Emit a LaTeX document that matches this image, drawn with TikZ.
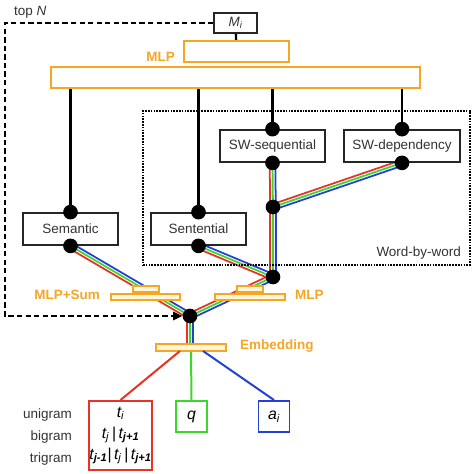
\documentclass[tikz,border=0pt]{standalone}
\usepackage{fontspec}
\setmainfont{Liberation Sans}
\usetikzlibrary{calc,arrows.meta,backgrounds}
\definecolor{mlporange}{RGB}{245,166,35}
\definecolor{mlpfill}{RGB}{255,244,220}
\definecolor{wred}{RGB}{232,50,40}
\definecolor{wgreen}{RGB}{60,215,45}
\definecolor{wblue}{RGB}{35,65,215}
\def\wiresep{2.4pt}
% three coloured strands between two named points
\newcommand{\wire}[2]{%
	\draw[wred,line width=1.5pt] ($(#1.center)!\wiresep!-90:(#2.center)$) -- ($(#2.center)!\wiresep!90:(#1.center)$);
	\draw[wgreen,line width=1.5pt] (#1.center) -- (#2.center);
	\draw[wblue,line width=1.5pt] ($(#1.center)!\wiresep!90:(#2.center)$) -- ($(#2.center)!\wiresep!-90:(#1.center)$);
}
\tikzset{
	module/.style={draw=black!85, line width=1.5pt, minimum height=0.96cm, inner sep=0pt, text=black!80, font=\fontsize{11.5}{13}\selectfont},
	joint/.style={circle, fill=black, inner sep=0pt, minimum size=0.44cm},
	mlpbox/.style={draw=mlporange, line width=1.9pt, fill=white, inner sep=0pt, minimum height=0.63cm},
	mlpbar/.style={draw=mlporange, line width=1.4pt, fill=mlpfill, inner sep=0pt, minimum height=0.18cm},
	mlplabel/.style={text=mlporange, font=\bfseries\fontsize{11.5}{13}\selectfont},
	plainlabel/.style={text=black!80, font=\fontsize{11.5}{13}\selectfont},
	inputbox/.style={line width=1.7pt, inner sep=0pt, font=\itshape\fontsize{13.5}{18}\selectfont},
	link/.style={line width=2pt},
}
\begin{document}
\begin{tikzpicture}[x=0.03cm, y=-0.03cm]
	\useasboundingbox (0,0) rectangle (474,474);
	
	\node[draw, densely dotted, line width=1.4pt, minimum width=9.81cm, minimum height=4.62cm] (wbw) at (306.5,188) {};
	\node[plainlabel, anchor=east] (wbwlabel) at (465,253) {Word-by-word};
	
	\node[module, minimum width=1.29cm, minimum height=0.6cm, font=\itshape\fontsize{11.5}{13}\selectfont] (mi) at (235.5,23) {M\textsubscript{i}};
	\node[mlpbox, minimum width=3.15cm] (mlptop) at (236.5,51.5) {};
	\node[mlplabel, anchor=east] (mlptoplabel) at (179,57) {MLP};
	\node[mlpbox, minimum width=11.07cm] (bigbar) at (235.5,77.5) {};
	\node[plainlabel, anchor=west] (topn) at (10,12) {top \textit{N}};
	
	\node[module, minimum width=2.85cm] (sem) at (70.5,229) {Semantic};
	\node[module, minimum width=2.85cm] (sent) at (198.5,229) {Sentential};
	\node[module, minimum width=3.15cm] (seq) at (272.5,146) {SW-sequential};
	\node[module, minimum width=3.48cm] (dep) at (402,146) {SW-dependency};
	
	\node[joint] (semtop) at (sem.north) {};
	\node[joint] (semb) at (sem.south) {};
	\node[joint] (senttop) at (sent.north) {};
	\node[joint] (sentb) at (sent.south) {};
	\node[joint] (seqtop) at (seq.north) {};
	\node[joint] (seqb) at (seq.south) {};
	\node[joint] (deptop) at (dep.north) {};
	\node[joint] (depb) at (dep.south) {};
	\node[joint] (jseq) at (273,207) {};
	\node[joint] (jmlp) at (273,277) {};
	\node[joint] (jc) at (190,316) {};
	
	\draw[link] (mi) -- (mlptop);
	\draw[link] (semtop.center) -- (semtop |- bigbar.south);
	\draw[link] (senttop.center) -- (senttop |- bigbar.south);
	\draw[link] (seqtop.center) -- (seqtop |- bigbar.south);
	\draw[link] (deptop.center) -- (deptop |- bigbar.south);
	
	\node[mlpbar, minimum width=0.78cm] (sumsmall) at (146,289) {};
	\node[mlpbar, minimum width=2.07cm] (sumbar) at (145.5,297) {};
	\node[mlplabel, anchor=east] (sumlabel) at (104,295) {MLP+Sum};
	\node[mlpbar, minimum width=0.78cm] (mlpsmall) at (250,289) {};
	\node[mlpbar, minimum width=2.1cm] (mlpbar) at (250,297) {};
	\node[mlplabel, anchor=west] (mlplabel) at (291,295) {MLP};
	\node[mlpbar, minimum width=2.1cm, minimum height=0.21cm] (emb) at (191,347.5) {};
	\node[mlplabel, anchor=west] (emblabel) at (236,346) {Embedding};
	\coordinate (embin) at (jc |- emb.center);
	
	\begin{pgfonlayer}{background}
		\wire{semb}{jc}
		\wire{sentb}{jmlp}
		\wire{depb}{jseq}
		\wire{seqb}{jseq}
		\wire{jseq}{jmlp}
		\wire{jmlp}{jc}
		\wire{jc}{embin}
	\end{pgfonlayer}
	
	\node[inputbox, draw=wred, minimum width=1.89cm, minimum height=2.07cm, align=center] (ngram) at (120.5,435.5) {t\textsubscript{i}\\t\textsubscript{j}\,|\,t\textsubscript{\textbf{j+1}}\\t\textsubscript{\textbf{j-1}}|\,t\textsubscript{j}\,|\,t\textsubscript{\textbf{j+1}}};
	\node[inputbox, draw=wgreen, minimum size=0.93cm] (qbox) at (191.5,416.5) {q};
	\node[inputbox, draw=wblue, minimum size=0.93cm] (abox) at (274,416.5) {a\textsubscript{i}};
	\node[plainlabel, anchor=east] (uni) at (76,415) {unigram};
	\node[plainlabel, anchor=east] (bi) at (76,437) {bigram};
	\node[plainlabel, anchor=east] (tri) at (76,459) {trigram};
	
	\coordinate (embred) at (180,351);
	\coordinate (embblue) at (203,351);
	\draw[wred, line width=1.7pt] (embred) -- (ngram.north);
	\draw[wgreen, line width=1.7pt] (emb.south) -- (qbox.north);
	\draw[wblue, line width=1.7pt] (embblue) -- (abox.north);
	
	\coordinate (corner) at (5,23);
	\draw[line width=2pt, dash pattern=on 4.5pt off 2.8pt, -{Triangle[length=8pt,width=7pt]}] (mi.west) -- (corner) |- (jc);
	
\end{tikzpicture}
\end{document}
